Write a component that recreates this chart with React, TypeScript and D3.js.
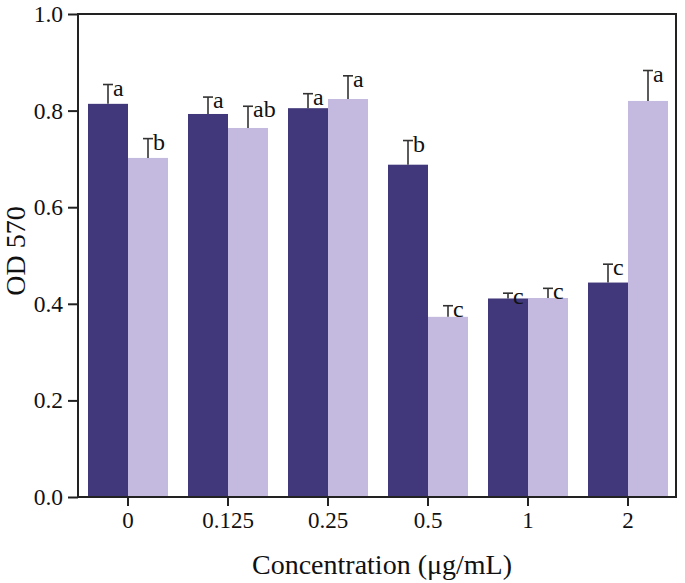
import React, { useEffect, useRef } from 'react';
import * as d3 from 'd3';

const concentrations = ['0', '0.125', '0.25', '0.5', '1', '2'];
const seriesNames = ['dark', 'light'];
const darkValues = [0.814, 0.793, 0.805, 0.688, 0.411, 0.444];
const darkErrors = [0.040, 0.035, 0.030, 0.050, 0.011, 0.038];
const darkLetters = ['a', 'a', 'a', 'b', 'c', 'c'];
const lightValues = [0.702, 0.764, 0.824, 0.373, 0.412, 0.820];
const lightErrors = [0.040, 0.045, 0.048, 0.023, 0.020, 0.063];
const lightLetters = ['b', 'ab', 'a', 'c', 'c', 'a'];
const yTicks = [0, 0.2, 0.4, 0.6, 0.8, 1.0];

const COLORS: Record<string, string> = { dark: '#40387a', light: '#c4badf' };
const MARGIN = { top: 14, right: 9, bottom: 86, left: 78 };
const WIDTH = 685;
const HEIGHT = 583;
const FONT = '"Times New Roman", "Liberation Serif", serif';

interface Bar {
    cat: string;
    series: string;
    value: number;
    err: number;
    letter: string;
}

const App: React.FC = () => {
    const svgRef = useRef<SVGSVGElement | null>(null);

    useEffect(() => {
        const svg = d3.select(svgRef.current);
        svg.selectAll('*').remove();

        const w = WIDTH - MARGIN.left - MARGIN.right;
        const h = HEIGHT - MARGIN.top - MARGIN.bottom;

        const bars: Bar[] = [];
        concentrations.forEach((c, i) => {
            bars.push({ cat: c, series: 'dark', value: darkValues[i], err: darkErrors[i], letter: darkLetters[i] });
            bars.push({ cat: c, series: 'light', value: lightValues[i], err: lightErrors[i], letter: lightLetters[i] });
        });

        const x = d3.scaleBand()
            .domain(concentrations)
            .range([0, w + 2])
            .paddingInner(0.2)
            .paddingOuter(0.1);

        const xSub = d3.scaleBand()
            .domain(seriesNames)
            .range([0, x.bandwidth()]);

        const y = d3.scaleLinear().domain([0, 1]).range([h, 0]);

        const g = svg.append('g').attr('transform', `translate(${MARGIN.left},${MARGIN.top})`);

        g.append('g')
            .selectAll('rect')
            .data(bars)
            .enter()
            .append('rect')
            .attr('x', d => x(d.cat)! + xSub(d.series)!)
            .attr('y', d => y(d.value))
            .attr('width', xSub.bandwidth())
            .attr('height', d => h - y(d.value))
            .attr('fill', d => COLORS[d.series]);

        // error bars (upper only)
        const eb = g.append('g').attr('stroke', '#333').attr('stroke-width', 1.6);
        bars.forEach(d => {
            const cx = x(d.cat)! + xSub(d.series)! + xSub.bandwidth() / 2;
            const top = y(d.value + d.err);
            eb.append('line')
                .attr('x1', cx).attr('x2', cx)
                .attr('y1', y(d.value)).attr('y2', top);
            eb.append('line')
                .attr('x1', cx - 5).attr('x2', cx + 5)
                .attr('y1', top).attr('y2', top);
        });

        g.append('g')
            .selectAll('text')
            .data(bars)
            .enter()
            .append('text')
            .attr('x', d => x(d.cat)! + xSub(d.series)! + xSub.bandwidth() / 2 + 5)
            .attr('y', d => y(d.value + d.err) + 11)
            .attr('font-family', FONT)
            .attr('font-size', 24)
            .attr('fill', '#111')
            .text(d => d.letter);

        // frame
        g.append('rect')
            .attr('x', 0).attr('y', 0)
            .attr('width', w).attr('height', h)
            .attr('fill', 'none')
            .attr('stroke', '#222')
            .attr('stroke-width', 2);

        const xAxis = g.append('g')
            .attr('transform', `translate(0,${h})`)
            .call(d3.axisBottom(x).tickSize(9).tickSizeOuter(0).tickPadding(6));
        xAxis.select('.domain').remove();
        xAxis.selectAll('line').attr('stroke', '#222').attr('stroke-width', 2);
        xAxis.selectAll('text').attr('font-family', FONT).attr('font-size', 23).attr('fill', '#111');

        const yAxis = g.append('g')
            .call(d3.axisLeft(y).tickValues(yTicks).tickFormat(d3.format('.1f')).tickSize(10).tickSizeOuter(0).tickPadding(5));
        yAxis.select('.domain').remove();
        yAxis.selectAll('line').attr('stroke', '#222').attr('stroke-width', 2);
        yAxis.selectAll('text').attr('font-family', FONT).attr('font-size', 23.5).attr('fill', '#111');

        svg.append('text')
            .attr('x', MARGIN.left + w / 2 + 5)
            .attr('y', 574)
            .attr('text-anchor', 'middle')
            .attr('font-family', FONT)
            .attr('font-size', 28)
            .attr('fill', '#111')
            .text('Concentration (μg/mL)');

        svg.append('text')
            .attr('transform', `translate(25,251) rotate(-90)`)
            .attr('text-anchor', 'middle')
            .attr('font-family', FONT)
            .attr('font-size', 28)
            .attr('fill', '#111')
            .text('OD 570');
    }, []);

    return (
        <svg
            ref={svgRef}
            width={WIDTH}
            height={HEIGHT}
            style={{ position: 'absolute', left: 0, top: 0, background: '#fff' }}
        />
    );
};

export default App;
